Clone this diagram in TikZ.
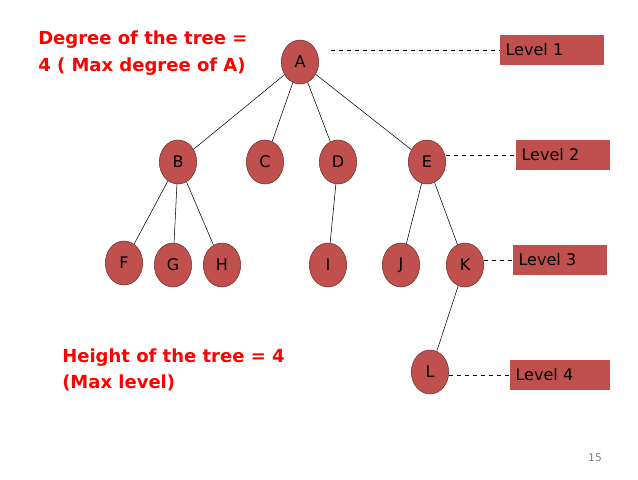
\documentclass[tikz,border=0pt]{standalone}
\usepackage{fontspec}
\setmainfont{DejaVu Sans}
\usetikzlibrary{shapes.geometric}
\definecolor{nodered}{HTML}{C0504D}
\definecolor{edgered}{HTML}{6E2A28}
\begin{document}
\begin{tikzpicture}[x=0.75pt,y=-0.75pt]
  \tikzset{tnode/.style={ellipse,draw=edgered,fill=nodered,minimum width=28pt,minimum height=33pt,inner sep=0pt,font=\fontsize{12}{14}\selectfont}}
  \tikzset{lvl/.style={rectangle,fill=nodered,anchor=west,text width=#1,minimum height=22pt,inner sep=4pt,font=\fontsize{12}{14}\selectfont}}
  \tikzset{note/.style={text=red,font=\bfseries\fontsize{13.5}{20}\selectfont,align=left,anchor=west,inner sep=0pt}}
  \useasboundingbox (0,0) rectangle (638,479);
  % tree
  \node[tnode] (A) at (300,62) {A};
  \node[tnode] (B) at (178,162) {B};
  \node[tnode] (C) at (265,162) {C};
  \node[tnode] (D) at (338,162) {D};
  \node[tnode] (E) at (427,162) {E};
  \node[tnode] (F) at (124,263) {F};
  \node[tnode] (G) at (173,265) {G};
  \node[tnode] (H) at (222,265) {H};
  \node[tnode] (I) at (328,265) {I};
  \node[tnode] (J) at (401,265) {J};
  \node[tnode] (K) at (465,265) {K};
  \node[tnode] (L) at (430,372) {L};
  \foreach \p/\c in {A/B,A/C,A/D,A/E,B/F,B/G,B/H,D/I,E/J,E/K,K/L}
    \draw (\p) -- (\c);
  % levels
  \node[lvl=70pt] (l1) at (500,50) {Level 1};
  \node[lvl=62pt] (l2) at (516,155) {Level 2};
  \node[lvl=62pt] (l3) at (513,260) {Level 3};
  \node[lvl=67pt] (l4) at (510,375) {Level 4};
  \draw[dashed] (A.east |- l1) ++(12,0) -- (l1.west);
  \draw[dashed] (E.east |- l2) -- (l2.west);
  \draw[dashed] (K.east |- l3) -- (l3.west);
  \draw[dashed] (L.east |- l4) -- (l4.west);
  % notes
  \node[note] (deg) at (38,53) {Degree of the tree =\\4 ( Max degree of A)};
  \node[note] (hgt) at (62,370) {Height of the tree = 4\\(Max level)};
  \node[text=gray,font=\fontsize{8}{10}\selectfont] (pg) at (595,458) {15};
\end{tikzpicture}
\end{document}
